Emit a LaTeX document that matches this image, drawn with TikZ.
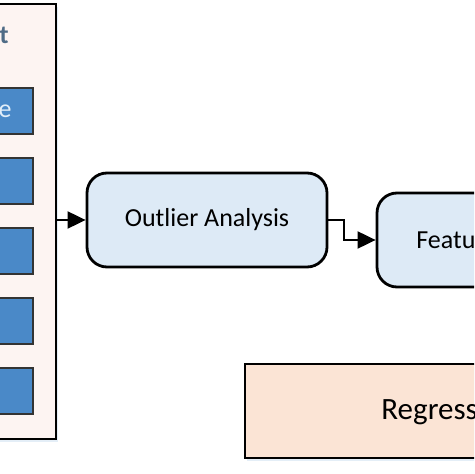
\documentclass[tikz,border=0pt]{standalone}
\usepackage{fontspec}
\setmainfont{Carlito}
\usepackage{xcolor}
\usepackage{tikz}
\usetikzlibrary{arrows.meta, positioning, shadows}

\definecolor{panelpink}{HTML}{FDF4F2}
\definecolor{itemblue}{HTML}{4A89C8}
\definecolor{boxblue}{HTML}{DDEAF6}
\definecolor{boxpeach}{HTML}{FBE4D5}
\definecolor{titlegray}{HTML}{4F6B86}
\definecolor{itemtext}{HTML}{E2EEF9}
\definecolor{haze}{HTML}{C9DDF0}

\begin{document}
\begin{tikzpicture}[x=0.5pt, y=-0.5pt,
			every node/.style={font=\fontsize{13pt}{15pt}\selectfont, inner sep=0pt},
			soft/.style={drop shadow={fill=haze, opacity=0.5, shadow xshift=1pt, shadow yshift=-1.5pt}},
			panel/.style={draw=black, line width=1.4pt, fill=panelpink, soft, minimum width=69.5pt, minimum height=217.5pt},
			item/.style={draw=black!80, line width=0.7pt, fill=itemblue, minimum width=46.5pt, minimum height=23pt},
			stage/.style={draw=black, line width=1.4pt, fill=boxblue, rounded corners=10pt, minimum width=120pt, minimum height=47pt},
			model/.style={draw=black, line width=1.4pt, fill=boxpeach, soft, minimum width=200pt, minimum height=47pt},
			arr/.style={line width=1pt, -{Triangle[length=9pt, width=8.5pt]}}]
			
			\useasboundingbox (0,0) rectangle (474,474);
			\clip (0,0) rectangle (474,474);
			
			% input panel on the left
			\node (Panel) [panel] at (-13.5,221.5) {};
			\node (PanelTitle) [anchor=east, font=\fontsize{13pt}{15pt}\selectfont\bfseries, text=titlegray] at (9,35) {t};
			\foreach \i/\y in {1/111, 2/181, 3/251, 4/321, 5/391}
				\node (Item\i) [item] at (-13.5,\y) {};
			\node (ItemText) [anchor=east, text=itemtext] at (12,111) {e};
			
%			processing stages
			\node (Outlier) [stage] at (207,220) {Outlier Analysis};
			\node (Feature) [stage] at (497,240) {};
			\node (FeatureText) [anchor=west] at (416,240) {Featu};
			\node (Regress) [model] at (445,411) {};
			\node (RegressText) [anchor=west, font=\fontsize{15.5pt}{18pt}\selectfont] at (381,412) {Regress};
			
			% connectors
			\draw[arr] (Panel.east |- Outlier.west) -- (Outlier.west);
			\draw[arr] (Outlier.east) -- ++(16,0) |- (Feature.west);
\end{tikzpicture}
\end{document}
